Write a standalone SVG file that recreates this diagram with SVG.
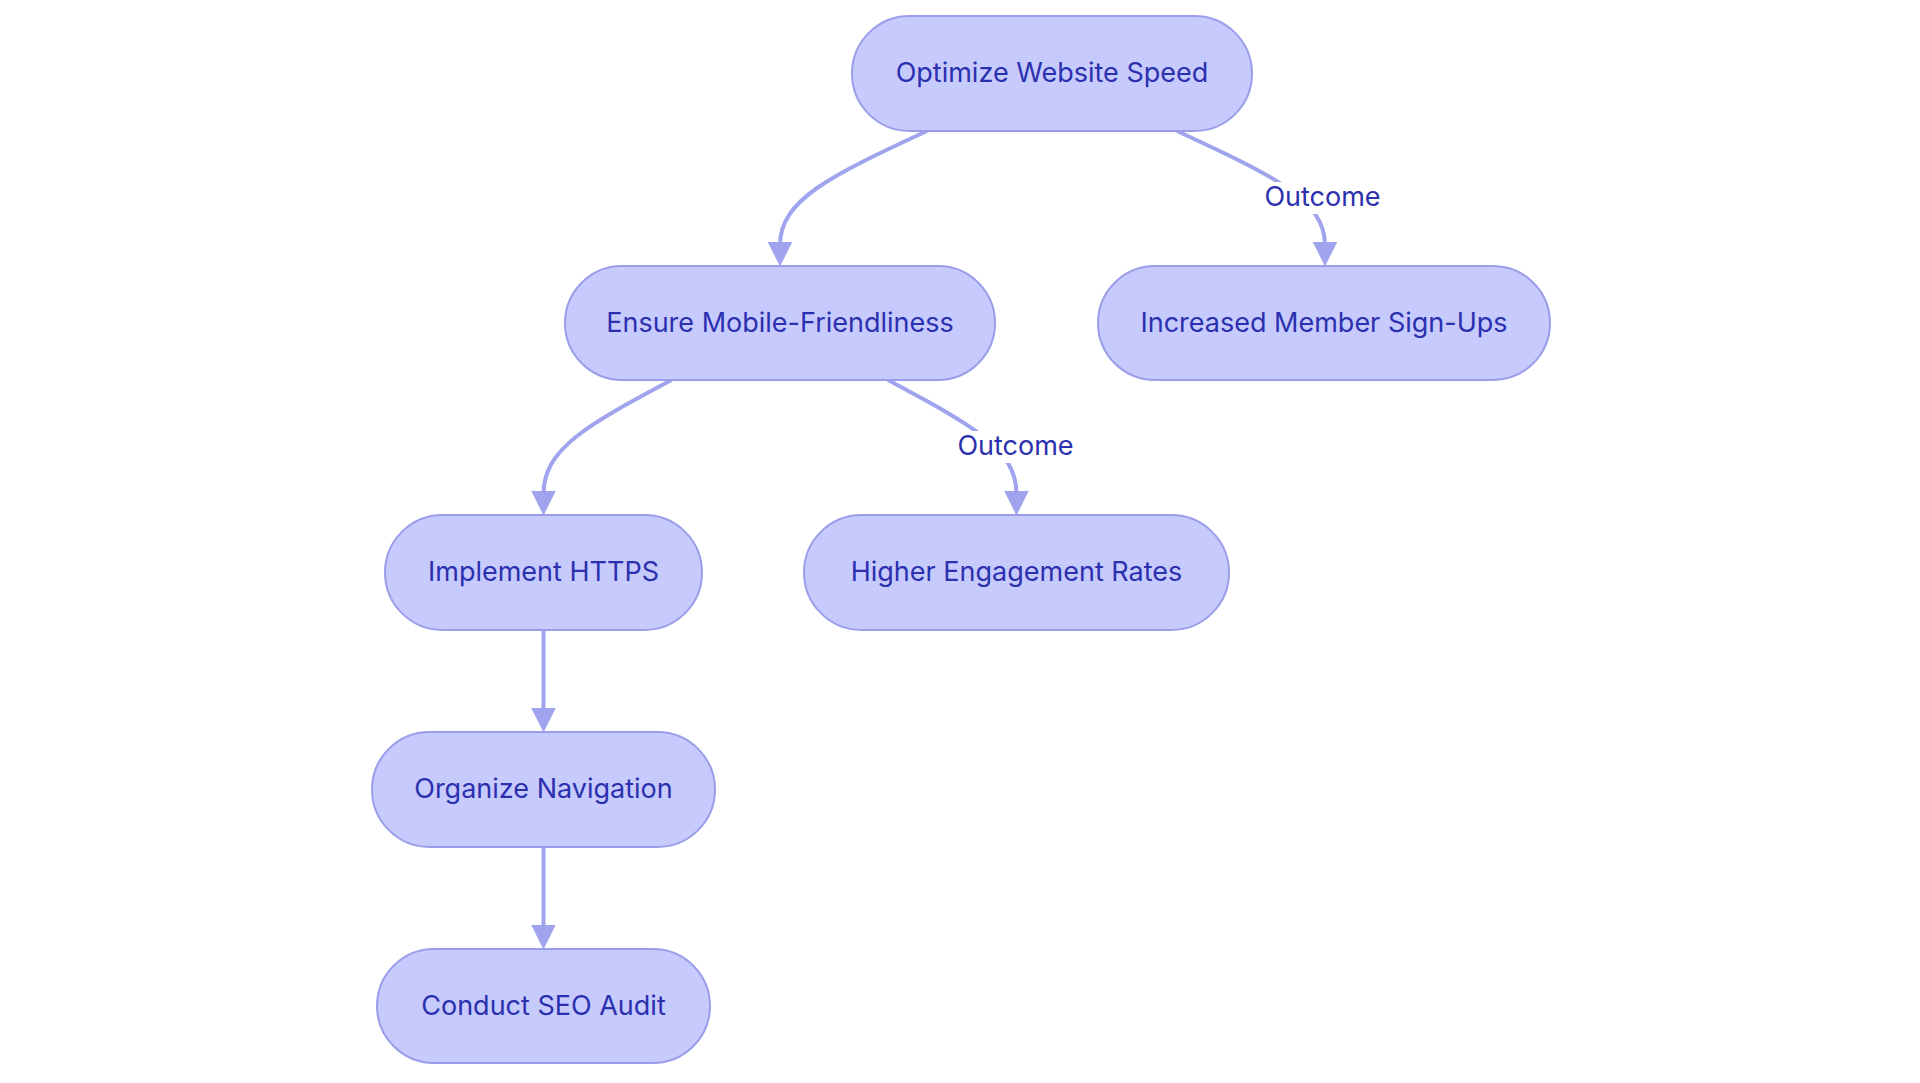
<svg xmlns="http://www.w3.org/2000/svg" width="1920" height="1083" viewBox="0 0 1920 1083">
<style>
.node rect{fill:#C6CAFD;stroke:#9A9EEA;stroke-width:2}
.node text,.lbl text{font-family:Inter,"Noto Sans","Liberation Sans",sans-serif;font-size:27px;fill:#2B30AE;text-anchor:middle}
.edge{fill:none;stroke:#A0A4EE;stroke-width:4}
.lbl rect{fill:#FFFFFF}
</style>
<defs>
<marker id="arr" viewBox="0 0 10 10" refX="5" refY="5" markerWidth="25" markerHeight="25" markerUnits="userSpaceOnUse" orient="auto">
<path d="M0,0 L10,5 L0,10 z" fill="#A0A4EE"/>
</marker>
</defs>
<rect width="1920" height="1083" fill="#FFFFFF"/>
<g id="connectors">
<path class="edge" d="M927,131 C830,176 780,200 780,245 L780,254" marker-end="url(#arr)"/>
<path class="edge" d="M1177,131 C1274,176 1325,200 1325,245 L1325,254" marker-end="url(#arr)"/>
<path class="edge" d="M671.5,380 C587,425 543.5,449 543.5,494 L543.5,503" marker-end="url(#arr)"/>
<path class="edge" d="M888,380 C972,425 1016.5,449 1016.5,494 L1016.5,503" marker-end="url(#arr)"/>
<path class="edge" d="M543.5,630 L543.5,720" marker-end="url(#arr)"/>
<path class="edge" d="M543.5,847 L543.5,937" marker-end="url(#arr)"/>
<g class="lbl" id="label1"><rect x="1260" y="182" width="125" height="32"/><text x="1322.5" y="205.5">Outcome</text></g>
<g class="lbl" id="label2"><rect x="953" y="431" width="125" height="32"/><text x="1015.5" y="454.5">Outcome</text></g>
</g>
<g id="n1" class="node"><rect x="852" y="16" width="400" height="115" rx="57.5" ry="57.5"/><text x="1052" y="82">Optimize Website Speed</text></g>
<g id="n2" class="node"><rect x="565" y="266" width="430" height="114" rx="57" ry="57"/><text x="780" y="331.5">Ensure Mobile-Friendliness</text></g>
<g id="n3" class="node"><rect x="1098" y="266" width="452" height="114" rx="57" ry="57"/><text x="1324" y="331.5">Increased Member Sign-Ups</text></g>
<g id="n4" class="node"><rect x="385" y="515" width="317" height="115" rx="57.5" ry="57.5"/><text x="543.5" y="581">Implement HTTPS</text></g>
<g id="n5" class="node"><rect x="804" y="515" width="425" height="115" rx="57.5" ry="57.5"/><text x="1016.5" y="581">Higher Engagement Rates</text></g>
<g id="n6" class="node"><rect x="372" y="732" width="343" height="115" rx="57.5" ry="57.5"/><text x="543.5" y="798">Organize Navigation</text></g>
<g id="n7" class="node"><rect x="377" y="949" width="333" height="114" rx="57" ry="57"/><text x="543.5" y="1014.5">Conduct SEO Audit</text></g>
</svg>
